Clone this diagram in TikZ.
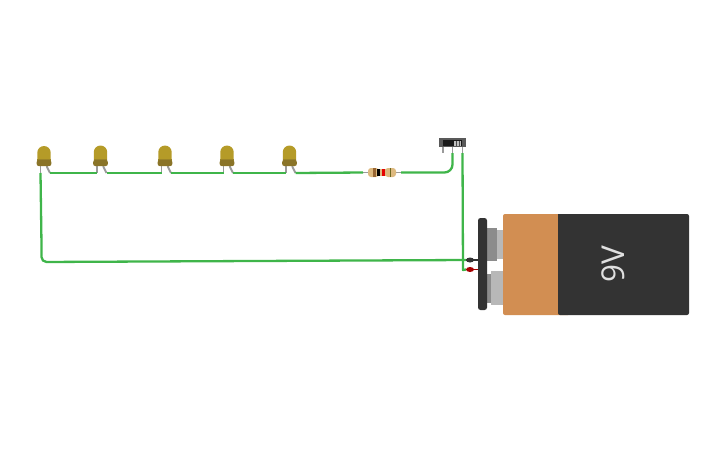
\documentclass[tikz,border=0pt]{standalone}
\usepackage{fontspec}
\setsansfont{Open Sans}
\definecolor{wiregreen}{HTML}{3FB54A}
\definecolor{ledgold}{HTML}{B59B28}
\definecolor{ledbase}{HTML}{8A7428}
\definecolor{legGray}{HTML}{9A9A9A}
\definecolor{batOrange}{HTML}{D28E52}
\definecolor{batDark}{HTML}{333333}
\definecolor{resTan}{HTML}{DDB97F}
\tikzset{
  wire/.style={wiregreen,line width=2.3pt,line join=round,rounded corners=#1},
  wire/.default=0pt,
  pinleg/.style={legGray,line width=1.8pt},
}
\begin{document}
\begin{tikzpicture}[x=1pt,y=-1pt]
\useasboundingbox (0,0) rectangle (725,453);

% LED
\foreach \n/\x/\t in {1/44/146,2/100.5/145.5,3/165/145.5,4/227/145.5,5/289.5/145.5}{
  \coordinate (ledA\n) at (\x-3.5,173);
  \coordinate (ledB\n) at (\x+6,173);
  \draw[pinleg] (\x-3.5,164) -- (ledA\n);
  \draw[pinleg] (\x+2.5,164) -- (\x+3,167) -- (ledB\n);
  \fill[ledgold] (\x-6.7,161) -- (\x-6.7,\t+6.7) arc[start angle=180,end angle=360,radius=6.7] -- (\x+6.7,161) -- cycle;
  \fill[ledbase!60!ledgold] (\x-6.7,158.5) rectangle (\x+6.7,161);
  \fill[ledbase,rounded corners=2pt] (\x-7.3,160) rectangle (\x+7.3,166);
}

% resistor
\coordinate (resA) at (363,172.5);
\coordinate (resB) at (401,172.5);
\draw[pinleg] (resA) -- (resB);
\fill[resTan,rounded corners=3pt] (368,168) rectangle (379,177);
\fill[resTan,rounded corners=3pt] (385,168) rectangle (396,177);
\fill[resTan] (376,169) rectangle (388,176);
\fill[brown!80!black] (373,168.2) rectangle (376,176.8);
\fill[black] (377,169) rectangle (380,176);
\fill[red!90!black] (382,169) rectangle (385,176);
\fill[olive!70!black] (389.5,168.2) rectangle (391,176.8);

% switch
\coordinate (swA) at (452.5,153);
\coordinate (swB) at (462.5,153);
\draw[pinleg] (443,146) -- (443,153);
\draw[pinleg] (452.5,146) -- (swA);
\draw[pinleg] (462.5,146) -- (swB);
\fill[black!65] (439,138) rectangle (466,147);
\fill[black!90] (443,139.5) rectangle (462,146);
\fill[black!25] (454,140.5) rectangle (461,145.5);
\foreach \x in {456,458.5} \fill[black!70] (\x,140.5) rectangle (\x+.8,145.5);

% battery
\fill[black!45] (487,228) rectangle (497,261);
\fill[black!28] (497,230) rectangle (504,259);
\fill[black!45] (487,274) rectangle (491,303);
\fill[black!28] (491,271) rectangle (504,305);
\fill[batDark,rounded corners=2.5pt] (478,218) rectangle (487,310);
\fill[batOrange,rounded corners=2pt] (503,214) rectangle (570,315);
\fill[batDark,rounded corners=2pt] (558,214) -- (689,214) -- (689,315) -- (558,315) [sharp corners] -- cycle;
\node[rotate=90,text=black!12,font=\sffamily\fontsize{31.5}{31.5}\selectfont,inner sep=0pt] (label) at (613.5,264.5) {9V};

% battery snaps
\coordinate (batN) at (466,260);
\coordinate (batP) at (466,269.5);
\draw[batDark,line width=1.2pt] (batN) -- (478,260);
\draw[red!65!black,line width=1.2pt] (batP) -- (478,269.5);

% wires
\draw[wire] (ledB1) -- (ledA2);
\draw[wire] (ledB2) -- (ledA3);
\draw[wire] (ledB3) -- (ledA4);
\draw[wire] (ledB4) -- (ledA5);
\draw[wire] (ledB5) -- (resA);
\draw[wire=8pt] (resB) -- (452.5,172.5) -- (swA);
\draw[wire] (swB) -- (463,270) -- (batP);
\draw[wire=5pt] (ledA1) -- (41.5,245) -- (41.5,262) -- (batN);

\fill[batDark] (470,260) ellipse[x radius=4,y radius=2.5];
\fill[red!65!black] (470,269.5) ellipse[x radius=4,y radius=2.5];

\end{tikzpicture}
\end{document}
